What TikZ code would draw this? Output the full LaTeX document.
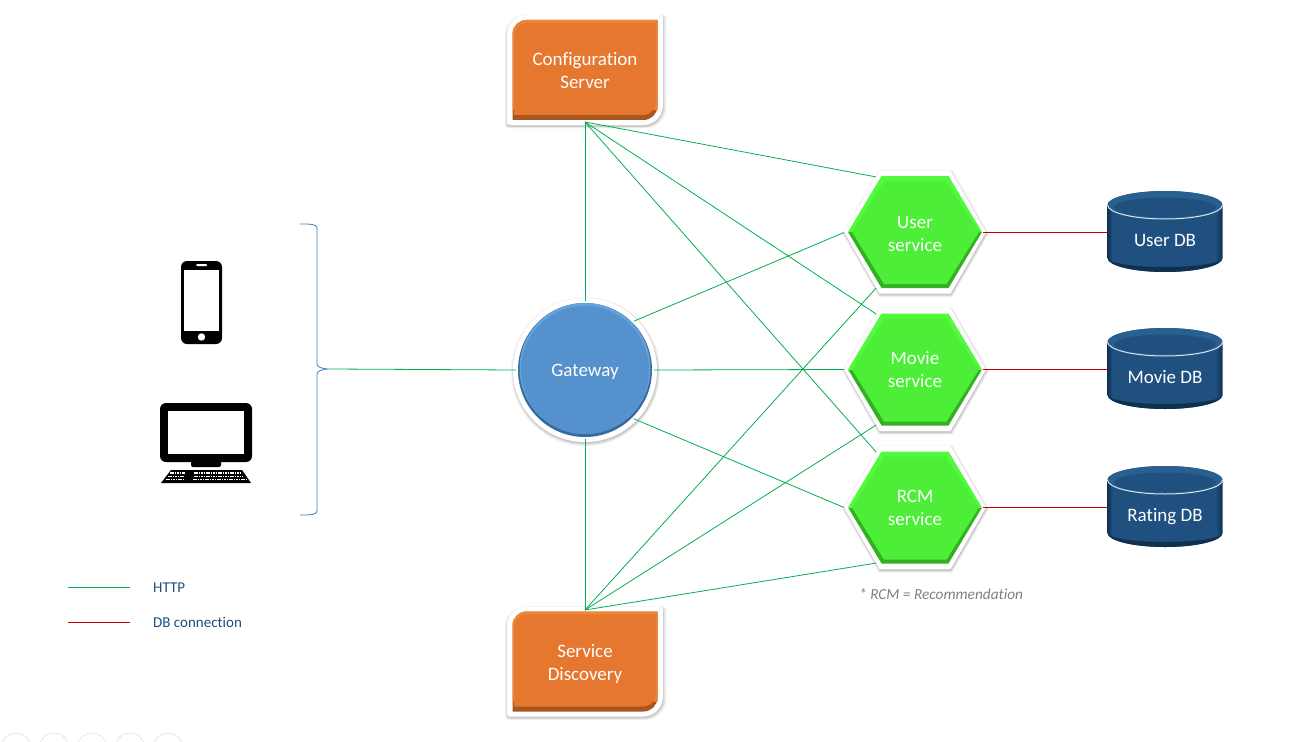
\documentclass[tikz,border=0pt]{standalone}
\usepackage{fontspec}
\setmainfont{Carlito}[Ligatures=NoCommon]
\usetikzlibrary{shapes.geometric,shadows}
\definecolor{httpgreen}{HTML}{00B050}
\definecolor{dbred}{HTML}{C00000}
\definecolor{bracketblue}{HTML}{3E7CB8}
\definecolor{boxmain}{HTML}{E5772F}
\definecolor{boxlight}{HTML}{F08535}
\definecolor{boxdark}{HTML}{A8561F}
\definecolor{hexmain}{HTML}{4CEE38}
\definecolor{hexlight}{HTML}{52FA3E}
\definecolor{hexdark}{HTML}{35B025}
\definecolor{gatemain}{HTML}{5591CC}
\definecolor{gatelight}{HTML}{64A3DE}
\definecolor{gatedark}{HTML}{386A9C}
\definecolor{dbmain}{HTML}{1F5080}
\definecolor{dbtop}{HTML}{296090}
\definecolor{dbedge}{HTML}{10304F}
\definecolor{legendtext}{HTML}{1F4E79}
\definecolor{notegrey}{HTML}{7F7F7F}
\definecolor{roundgrey}{HTML}{D4D4D4}
\pgfdeclarehorizontalshading{dbbody}{100bp}{color(0bp)=(dbedge); color(25bp)=(dbedge); color(27bp)=(dbmain); color(72bp)=(dbmain); color(75bp)=(dbedge); color(100bp)=(dbedge)}
\tikzset{
    rim shadow/.style={
        general shadow={shadow xshift=.5pt,shadow yshift=-1.5pt,shadow scale=1.035,fill=black,opacity=.05},
        general shadow={shadow xshift=.5pt,shadow yshift=-1.5pt,shadow scale=1.02,fill=black,opacity=.07},
        general shadow={shadow xshift=.5pt,shadow yshift=-1.5pt,shadow scale=1.005,fill=black,opacity=.1}},
    label/.style={text=white,align=center,font=\fontsize{19}{23}\selectfont,inner sep=0pt,outer sep=0pt},
    box/.style={label,rectangle,minimum width=145pt,minimum height=104pt,text depth=-1pt},
    service/.style={label,regular polygon,regular polygon sides=6,minimum size=142pt},
    gate/.style={label,circle,minimum size=144pt,outer sep=-3pt,text depth=0pt},
    store/.style={label,rectangle,minimum width=115pt,minimum height=81pt},
    boxback/.pic={
        \fill[white,rim shadow] (-78,-35) [rounded corners=20] -- (-78,-55) [rounded corners=3] -- (78,-55) -- (78,0) [rounded corners=20] -- (78,55) [rounded corners=3] -- (-78,55) -- cycle;
        \fill[boxdark] (-72.5,-30) [rounded corners=14] -- (-72.5,-50) [sharp corners] -- (72.5,-50) -- (72.5,30) [rounded corners=14] -- (72.5,50) [sharp corners] -- (-72.5,50) -- cycle;
        \fill[boxlight] (-72.5,-30) [rounded corners=14] -- (-72.5,-50) [sharp corners] -- (72.5,-50) -- (72.5,40) -- (-72.5,40) -- cycle;
        \fill[boxmain] (-71,-30) [rounded corners=13] -- (-71,-47) [sharp corners] -- (71,-47) -- (71,30) [rounded corners=13] -- (71,45) [sharp corners] -- (-71,45) -- cycle;
    },
    hexback/.pic={
        \fill[white,rim shadow] (-71,0) -- (-35.5,-61.5) -- (35.5,-61.5) -- (71,0) -- (35.5,61.5) -- (-35.5,61.5) -- cycle;
        \fill[hexdark] (-67,0) -- (-33.5,56) -- (33.5,56) -- (67,0) -- cycle;
        \fill[hexlight] (-67,0) -- (-33.5,-56) -- (33.5,-56) -- (67,0) -- cycle;
        \fill[hexmain] (-63,0) -- (-30.5,-51) -- (30.5,-51) -- (64,0) -- (31.5,52) -- (-31,52) -- cycle;
    },
    gateback/.pic={
        \fill[white,rim shadow] (0,0) circle (72);
        \fill[gatedark] (0,0) circle (67);
        \fill[gatelight] (0,-1.5) circle (65.5);
        \fill[gatemain] (0,0) circle (64);
    },
    storeback/.pic={
        \shade[shading=dbbody] (-57.5,-26.5) -- (-57.5,26.5) arc (180:0:57.5 and 14) -- (57.5,-26.5) arc (360:180:57.5 and 14) -- cycle;
        \fill[dbedge] (-57.5,26.5) arc (180:0:57.5 and 14) arc (0:180:57.5 and 9) -- cycle;
        \fill[dbtop] (0,-26.5) ellipse (57.5 and 14);
        \fill[dbmain] (0,-24) ellipse (51 and 10);
        \draw[white!85!dbmain,line width=1pt] (-57.5,-26.5) arc (180:0:57.5 and 14);
    },
    http/.style={httpgreen,line width=.8pt},
    dbline/.style={dbred,line width=.8pt},
    bracket/.style={bracketblue,line width=.8pt},
    legend/.style={text=legendtext,anchor=west,inner sep=0pt,font=\fontsize{15}{18}\selectfont},
    note/.style={text=notegrey,anchor=west,inner sep=0pt,font=\fontsize{15.3}{18}\selectfont\itshape},
    phone/.pic={
        \fill[black,rounded corners=6] (181,261) rectangle (222,344);
        \fill[white] (184,270) rectangle (219,331);
        \fill[white,rounded corners=1] (196,264) rectangle (207,266);
        \fill[white] (201.5,337) circle (3.7);
    },
    desktop/.pic={
        \fill[black,rounded corners=6] (160,403) rectangle (252,462);
        \fill[white] (168,411) rectangle (244,454);
        \fill[black,rounded corners=2] (191,460) rectangle (221,467);
        \fill[black] (171,470) -- (242,470) -- (251,483) -- (161,483) -- cycle;
        \draw[white,line width=1.8pt,dash pattern=on 1.6pt off .8pt] (170,473) -- (185,473);
        \draw[white,line width=1.8pt,dash pattern=on 1.6pt off .8pt] (168,476.5) -- (184,476.5);
        \draw[white,line width=1.8pt,dash pattern=on 1.6pt off .8pt] (166,479.5) -- (183,479.5);
        \draw[white,line width=1.8pt,dash pattern=on 1.6pt off .8pt] (194,473) -- (241,473);
        \draw[white,line width=1.8pt,dash pattern=on 1.6pt off .8pt] (194,476.5) -- (243,476.5);
        \draw[white,line width=1.8pt,dash pattern=on 1.6pt off .8pt] (193,479.5) -- (246,479.5);
    },
}
\begin{document}
\begin{tikzpicture}[x=1pt,y=-1pt]
        \useasboundingbox (0,0) rectangle (1313,741);
        % slide controls cut by the lower edge
        \begin{scope}
            \clip (0,0) rectangle (1313,741);
            \draw[roundgrey] (16,747.5) circle (14.5);
            \draw[roundgrey] (54,747.5) circle (14.5);
            \draw[roundgrey] (92,747.5) circle (14.5);
            \draw[roundgrey] (130,747.5) circle (14.5);
            \draw[roundgrey] (168,747.5) circle (14.5);
        \end{scope}
        % clients
        \pic {phone};
        \pic {desktop};
        \draw[bracket] (300,224) .. controls (310,224) and (317,224) .. (317,228) -- (317,364) .. controls (317,367) and (322,369) .. (330,369) .. controls (322,369) and (317,371) .. (317,374) -- (317,511) .. controls (317,515) and (310,515) .. (300,515);
        \coordinate (clients) at (330,369);
        % shapes behind the labels
        \pic at (585,70) {boxback};
        \pic at (585,661.5) {boxback};
        \pic at (585,370) {gateback};
        \pic at (915,232) {hexback};
        \pic at (915,369.5) {hexback};
        \pic at (915,507.5) {hexback};
        \pic at (1165,231.5) {storeback};
        \pic at (1165,368.5) {storeback};
        \pic at (1165,506.5) {storeback};
        % labels
        \node[box] (config) at (585,70) {Configuration\\Server};
        \node[box] (discovery) at (585,662) {Service\\Discovery};
        \node[gate] (gateway) at (585,370) {Gateway};
        \node[service] (user) at (915,232.5) {\rule{0pt}{16pt}User\\service};
        \node[service] (movie) at (915,369.5) {Movie\\service};
        \node[service] (rcm) at (915,507.5) {RCM\\service};
        \node[store] (userdb) at (1165,232.5) {\raisebox{-14pt}[0pt][0pt]{User DB}};
        \node[store] (moviedb) at (1165,369.5) {\raisebox{-14pt}[0pt][0pt]{Movie DB}};
        \node[store] (ratingdb) at (1165,507.5) {\raisebox{-14pt}[0pt][0pt]{Rating DB}};
        \node[note] (rcmnote) at (859,594) {* RCM = Recommendation};
        % legend
        \coordinate (httpa) at (68,587);
        \coordinate (httpb) at (130,587);
        \coordinate (dba) at (68,622);
        \coordinate (dbb) at (130,622);
        \node[legend] (httptext) at (153,587.5) {HTTP};
        \node[legend] (dbtext) at (153,622.5) {DB connection};
        \draw[http] (httpa) -- (httpb);
        \draw[dbline] (dba) -- (dbb);
        % connectors
        \draw[http] (clients) -- (gateway.west);
        \draw[http] (config.south) -- (gateway.north);
        \draw[http] (config.south) -- (user.125);
        \draw[http] (config.south) -- (movie.125);
        \draw[http] (config.south) -- (rcm.125);
        \draw[http] (discovery.north) -- (gateway.south);
        \draw[http] (discovery.north) -- (user.235);
        \draw[http] (discovery.north) -- (movie.235);
        \draw[http] (discovery.north) -- (rcm.235);
        \draw[http] (gateway.45) -- (user.180);
        \draw[http] (gateway.east) -- (movie.180);
        \draw[http] (gateway.-45) -- (rcm.180);
        \draw[dbline,shorten <=-3pt] (user.0) -- (userdb.west);
        \draw[dbline,shorten <=-3pt] (movie.0) -- (moviedb.west);
        \draw[dbline,shorten <=-3pt] (rcm.0) -- (ratingdb.west);
    \end{tikzpicture}
\end{document}
